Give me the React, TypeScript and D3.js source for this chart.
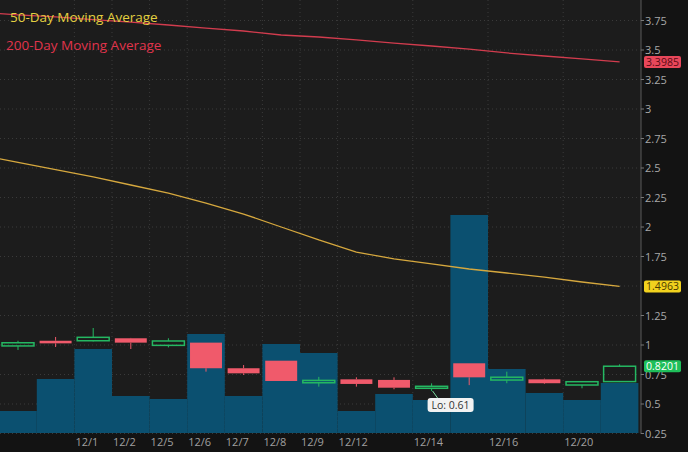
import * as d3 from "d3";

const width = 688;
const height = 452;
const plotRight = 641;
const plotBottom = 433;

// trading days (first one sits off the left edge, only its averages show)
const dates = ["11/28", "11/29", "11/30", "12/1", "12/2", "12/5", "12/6", "12/7", "12/8", "12/9", "12/12", "12/13", "12/14", "12/15", "12/16", "12/19", "12/20", "12/21"];
const openP = [null, 0.992, 1.036, 1.036, 1.057, 0.997, 1.02, 0.803, 0.867, 0.68, 0.709, 0.704, 0.638, 0.845, 0.703, 0.709, 0.661, 0.69];
const highP = [null, 1.036, 1.068, 1.144, 1.06, 1.057, 1.02, 0.83, 0.867, 0.73, 0.726, 0.726, 0.675, 0.845, 0.774, 0.715, 0.69, 0.836];
const lowP = [null, 0.958, 0.983, 1.03, 0.966, 0.98, 0.774, 0.746, 0.695, 0.647, 0.647, 0.625, 0.61, 0.66, 0.676, 0.67, 0.633, 0.686];
const closeP = [null, 1.019, 1.014, 1.065, 1.02, 1.034, 0.803, 0.76, 0.695, 0.7, 0.67, 0.638, 0.65, 0.726, 0.727, 0.676, 0.689, 0.8201];
const volume = [null, 220, 540, 840, 370, 340, 990, 370, 890, 800, 220, 390, 330, 2180, 640, 400, 330, 500];
const ma50 = [2.61, 2.547, 2.487, 2.424, 2.356, 2.288, 2.203, 2.11, 2.0, 1.89, 1.788, 1.729, 1.687, 1.644, 1.61, 1.576, 1.534, 1.4963];
const ma200 = [3.82, 3.797, 3.78, 3.758, 3.737, 3.712, 3.686, 3.661, 3.627, 3.61, 3.585, 3.559, 3.534, 3.508, 3.475, 3.449, 3.424, 3.3985];

const yTicks = [3.75, 3.5, 3.25, 3, 2.75, 2.5, 2.25, 2, 1.75, 1.5, 1.25, 1, 0.75, 0.5, 0.25];
const hiddenTickLabels = [1.5];
const xLabels = ["12/1", "12/2", "12/5", "12/6", "12/7", "12/8", "12/9", "12/12", "12/14", "12/16", "12/20"];

const upColor = "#25b862";
const downColor = "#f05a6b";
const font = "'Open Sans', 'Noto Sans', sans-serif";

export default function App() {
  const x = d3.scaleBand<string>().domain(dates).range([-38.4, 638.4]).padding(0);
  const bw = x.bandwidth();
  const y = d3.scaleLinear().domain([0.25, 3.75]).range([433.5, 20.5]);
  const yVol = d3.scaleLinear().domain([0, 4000]).range([plotBottom, 33]);

  const cx = (i: number) => (x(dates[i]) as number) + bw / 2;

  const lineGen = d3
    .line<number>()
    .x((_, i) => cx(i))
    .y((d) => y(d));

  const last = dates.length - 1;
  const tag = (v: number, label: string, fill: string, txt: string) => (
    <g key={label} transform={`translate(644, ${y(v)})`}>
      <rect x={0} y={-6} width={37} height={12} rx={2} fill={fill} />
      <text x={18.5} y={4} textAnchor="middle" fontSize={10.5} fill={txt} fontFamily={font}>
        {label}
      </text>
    </g>
  );

  const minLow = d3.min(lowP.filter((v) => v !== null) as number[]);
  const loIdx = lowP.findIndex((d) => d !== null && d === minLow);
  const loY = y(lowP[loIdx] as number);

  return (
    <svg
      width={width}
      height={height}
      viewBox={`0 0 ${width} ${height}`}
      style={{ position: "absolute", left: 0, top: 0, display: "block" }}
    >
      <defs>
        <clipPath id="plot">
          <rect x={0} y={0} width={plotRight} height={plotBottom} />
        </clipPath>
      </defs>
      <rect width={width} height={height} fill="#131313" />
      <rect x={0} y={0} width={plotRight} height={plotBottom} fill="#1c1c1c" />

      {/* grid */}
      <g stroke="#3a3a3a" strokeDasharray="1,3" strokeWidth={1}>
        {yTicks.map((t) => (
          <line key={t} x1={0} x2={plotRight} y1={y(t)} y2={y(t)} />
        ))}
        {xLabels.map((d) => (
          <line key={d} x1={x(d)} x2={x(d)} y1={0} y2={plotBottom} />
        ))}
      </g>

      {/* volume */}
      <g clipPath="url(#plot)">
        {volume.map((v, i) =>
          v === null ? null : (
            <rect
              key={i}
              x={x(dates[i])}
              y={yVol(v)}
              width={bw}
              height={plotBottom - yVol(v)}
              fill="#0b5070"
            />
          )
        )}
      </g>

      {/* moving averages */}
      <g clipPath="url(#plot)" fill="none">
        <path d={lineGen(ma200) as string} stroke="#d23c4e" strokeWidth={1.3} />
        <path d={lineGen(ma50) as string} stroke="#d6a83e" strokeWidth={1.3} />
      </g>

      {/* candles */}
      <g>
        {dates.map((d, i) => {
          const o = openP[i];
          const c = closeP[i];
          const h = highP[i];
          const l = lowP[i];
          if (o === null || c === null || h === null || l === null) return null;
          const up = c >= o;
          const col = up ? upColor : downColor;
          const top = y(Math.max(o, c));
          const bot = Math.max(y(Math.min(o, c)), top + 2);
          const bodyW = bw * 0.85;
          const xc = cx(i);
          return (
            <g key={d}>
              {y(h) < top && <line x1={xc} x2={xc} y1={y(h)} y2={top} stroke={col} strokeWidth={1} />}
              {y(l) > bot && <line x1={xc} x2={xc} y1={bot} y2={y(l)} stroke={col} strokeWidth={1} />}
              {up ? (
                <rect
                  x={xc - bodyW / 2}
                  y={top}
                  width={bodyW}
                  height={bot - top}
                  fill="none"
                  stroke={col}
                  strokeWidth={1.5}
                />
              ) : (
                <rect x={xc - bodyW / 2} y={top} width={bodyW} height={bot - top} fill={col} />
              )}
            </g>
          );
        })}
      </g>

      {/* low marker */}
      {loIdx > 0 && (
        <g>
          <line x1={cx(loIdx) + 1} y1={loY} x2={cx(loIdx) + 6} y2={loY + 7} stroke="#7fd9a0" strokeWidth={1} />
          <rect x={cx(loIdx) - 4} y={loY + 7} width={46} height={14} rx={3} fill="#f2f2f2" />
          <text x={cx(loIdx) + 19} y={loY + 18} textAnchor="middle" fontSize={10.5} fill="#333" fontFamily={font}>
            {`Lo: ${lowP[loIdx]}`}
          </text>
        </g>
      )}

      {/* right axis */}
      <line x1={plotRight} x2={plotRight} y1={0} y2={plotBottom} stroke="#5a5a5a" />
      <g fontFamily={font} fontSize={11} fill="#a8a8a8">
        {yTicks
          .filter((t) => !hiddenTickLabels.includes(t))
          .map((t) => (
            <g key={t} transform={`translate(${plotRight}, ${y(t)})`}>
              <line x1={0} x2={3} y1={0} y2={0} stroke="#777" />
              <text x={4} y={4}>
                {String(t)}
              </text>
            </g>
          ))}
      </g>

      {/* x axis */}
      <g fontFamily={font} fontSize={11} fill="#a0a0a0">
        {xLabels.map((d) => (
          <text key={d} x={(x(d) as number) + 1} y={446}>
            {d}
          </text>
        ))}
      </g>

      {/* price tags */}
      {tag(ma200[last], "3.3985", "#e8475a", "#5a0a14")}
      {tag(ma50[last], "1.4963", "#f2d21e", "#4a3a00")}
      {tag(closeP[last] as number, "0.8201", "#1fbf5a", "#ffffff")}

      {/* legend */}
      <g fontFamily={font} fontSize={13.5}>
        <text x={10} y={22} fill="#e3d040">
          50-Day Moving Average
        </text>
        <text x={6} y={50} fill="#e0344c">
          200-Day Moving Average
        </text>
      </g>
    </svg>
  );
}
